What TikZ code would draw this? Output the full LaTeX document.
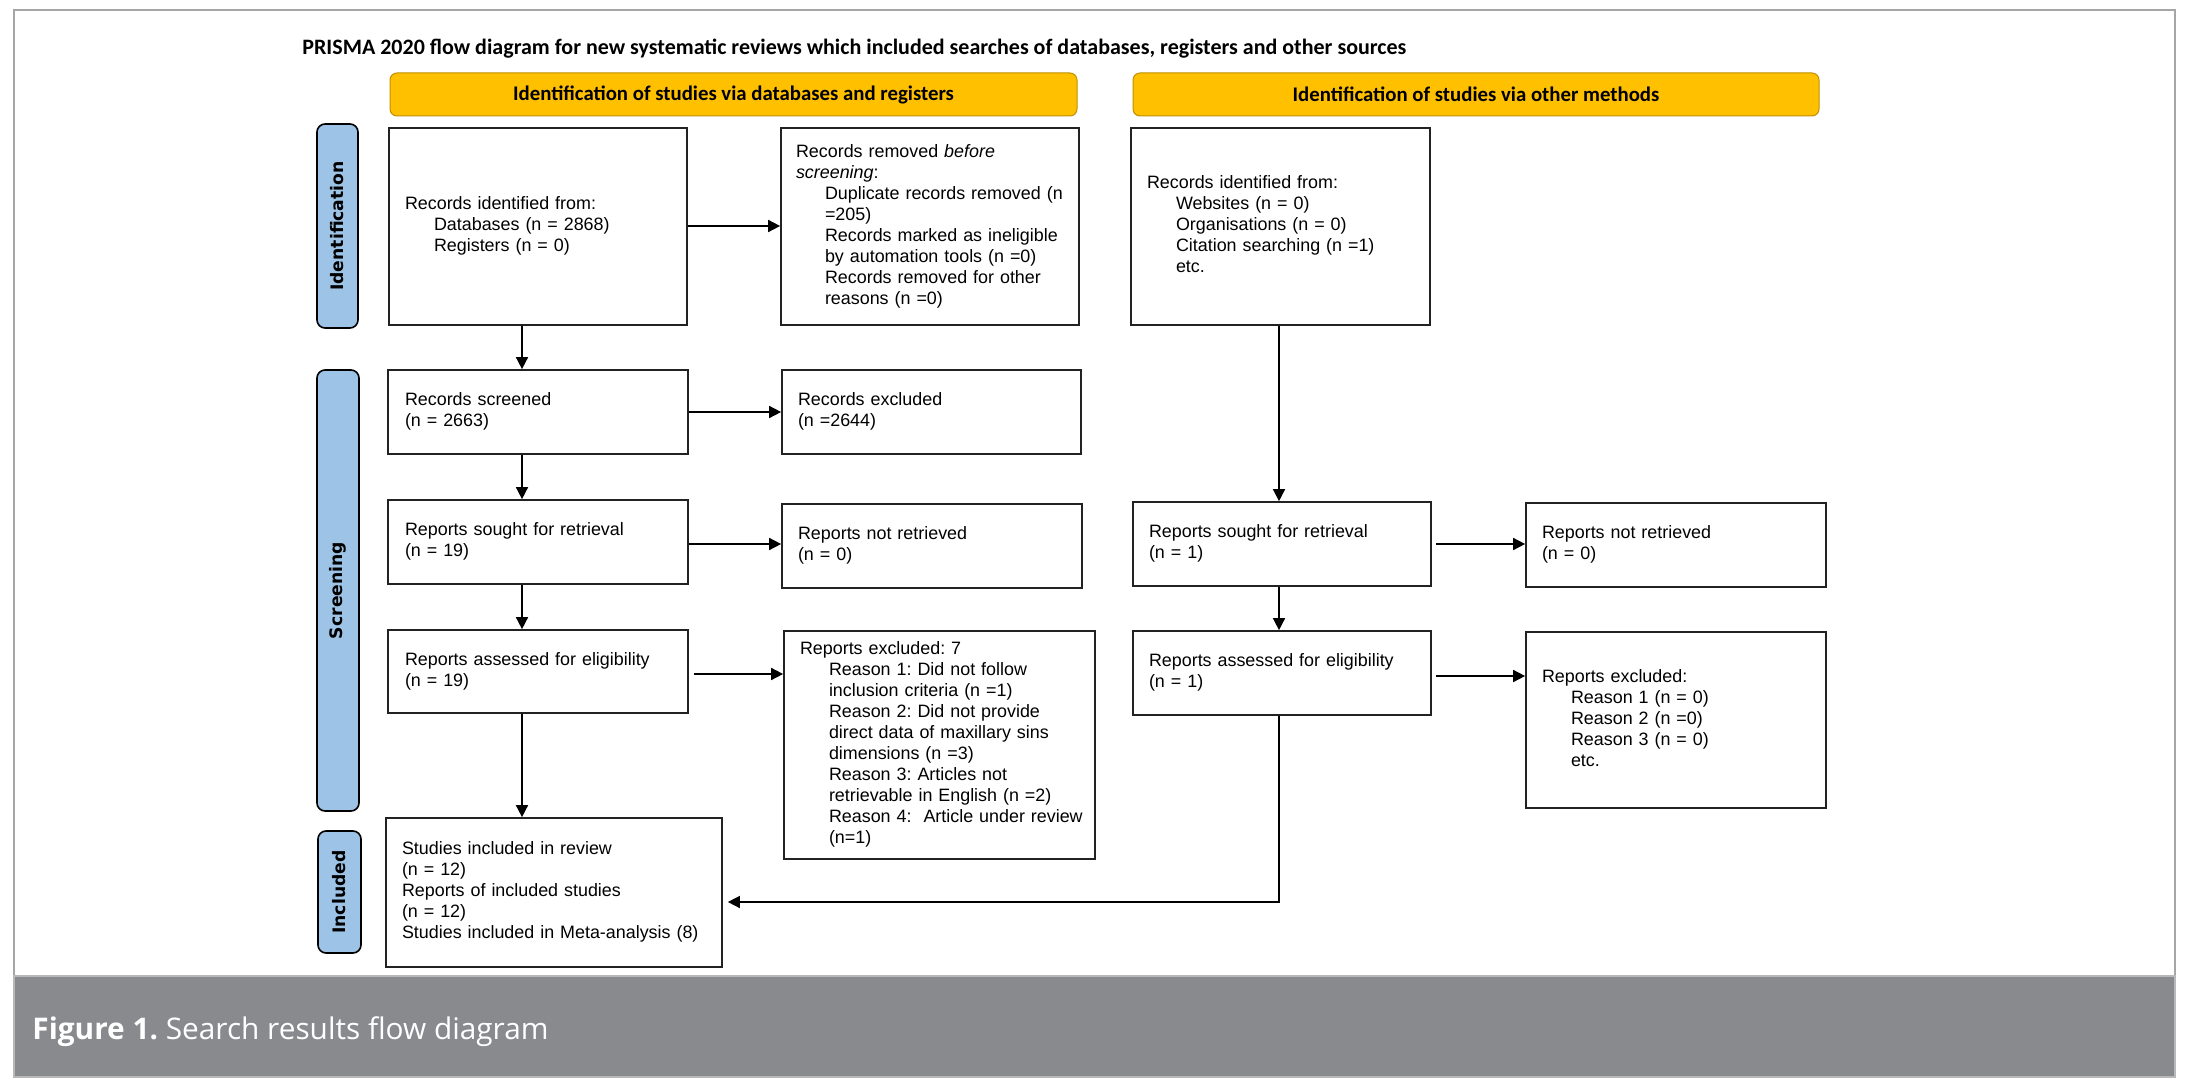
\documentclass[tikz,border=0pt]{standalone}
\usepackage{fontspec}
\setmainfont{Liberation Sans}
\newfontfamily\calibri{Carlito}
\newfontfamily\capfont{Open Sans}
\newfontfamily\labfont{DejaVu Sans}
\usetikzlibrary{arrows.meta}
\definecolor{hdrfill}{HTML}{FFC000}
\definecolor{hdrdraw}{HTML}{BF9000}
\definecolor{labfill}{HTML}{9DC3E6}
\definecolor{framegray}{HTML}{A6A6A6}
\definecolor{bandgray}{HTML}{898A8E}
\definecolor{bandedge}{HTML}{B8B8B8}
\definecolor{boxdraw}{HTML}{222222}
\newcommand\pbboxfont{\fontsize{8.95}{10.5}\selectfont}
\newcommand\pbrows[1]{\begin{tabular}{@{}l@{}}#1\end{tabular}}
\newcommand\pbind{\hspace*{14.5pt}}
\tikzset{
  pbox/.style={draw=boxdraw, line width=0.85pt, fill=white, inner xsep=0pt, inner ysep=0pt,
    align=left, font=\pbboxfont},
  hdr/.style={draw=hdrdraw, line width=0.5pt, fill=hdrfill, rounded corners=3.5pt,
    font=\calibri\bfseries\fontsize{10.4}{12}\selectfont, minimum height=21.5pt, inner sep=0pt},
  lab/.style={draw=black, line width=0.8pt, fill=labfill, rounded corners=4pt,
    font=\labfont\bfseries\fontsize{8.6}{10}\selectfont, rotate=90, inner sep=0pt},
  arr/.style={draw=black, line width=0.8pt, -{Triangle[length=6pt,width=6pt]}}
}
\begin{document}
\frenchspacing
\begin{tikzpicture}[x=0.5pt,y=-0.5pt]
\useasboundingbox (0,0) rectangle (2194,1086);
% frame and caption band
\draw[framegray, line width=0.75pt] (14,10) rectangle (2175,976);
\fill[bandgray] (14,976) rectangle (2175,1077);
\draw[bandedge, line width=0.75pt] (14,976) rectangle (2175,1077);
\node[anchor=base west, text=white, inner sep=0pt, font=\capfont\fontsize{14.9}{17}\selectfont] (cap) at (32,1039) {\textbf{Figure 1.} Search results flow diagram};
% title
\node[anchor=base west, inner sep=0pt, font=\calibri\bfseries\fontsize{11}{13}\selectfont] (title) at (302,55) {PRISMA 2020 flow diagram for new systematic reviews which included searches of databases, registers and other sources};
% headers
\node[hdr, minimum width=343.5pt] (h1) at (733.5,94.5) {Identification of studies via databases and registers};
\node[hdr, minimum width=343pt] (h2) at (1476,94.5) {Identification of studies via other methods};
% side labels
\node[lab, minimum width=102pt, minimum height=20.5pt] (l1) at (337.5,226) {Identification};
\node[lab, minimum width=220.5pt, minimum height=21pt] (l2) at (338,590.5) {Screening};
\node[lab, minimum width=61pt, minimum height=21.5pt] (l3) at (339.5,892) {Included};
% left column
\node[pbox, minimum width=149pt, minimum height=98.5pt, text width=133pt] (id1) at (538,226.5)
  {\pbrows{Records identified from:\\ \pbind Databases (n = 2868)\\ \pbind Registers (n = 0)}};
\node[pbox, minimum width=149pt, minimum height=98.5pt, text width=134pt] (rem) at (930,226.5)
  {\pbrows{Records removed \textit{before}\\ \textit{screening}:\\ \pbind Duplicate records removed (n\\ \pbind =205)\\ \pbind Records marked as ineligible\\ \pbind by automation tools (n =0)\\ \pbind Records removed for other\\ \pbind reasons (n =0)}};
\node[pbox, minimum width=150pt, minimum height=42pt, text width=133pt] (scr) at (538,412)
  {\pbrows{Records screened\\ (n = 2663)}};
\node[pbox, minimum width=149.5pt, minimum height=42pt, text width=133.5pt] (exc) at (931.5,412)
  {\pbrows{Records excluded\\ (n =2644)}};
\node[pbox, minimum width=150pt, minimum height=42pt, text width=133pt] (sought) at (538,542)
  {\pbrows{Reports sought for retrieval\\ (n = 19)}};
\node[pbox, minimum width=150pt, minimum height=42pt, text width=134pt] (notret) at (932,546)
  {\pbrows{Reports not retrieved\\ (n = 0)}};
\node[pbox, minimum width=150pt, minimum height=41.5pt, text width=133pt] (assess) at (538,671.5)
  {\pbrows{Reports assessed for eligibility\\ (n = 19)}};
\node[pbox, minimum width=155.5pt, minimum height=114pt, text width=139.5pt] (repexc) at (939.5,745)
  {\pbrows{Reports excluded: 7\\ \pbind Reason 1: Did not follow\\ \pbind inclusion criteria (n =1)\\ \pbind Reason 2: Did not provide\\ \pbind direct data of maxillary sins\\ \pbind dimensions (n =3)\\ \pbind Reason 3: Articles not\\ \pbind retrievable in English (n =2)\\ \pbind Reason 4:\ \ Article under review\\ \pbind (n=1)}};
\node[pbox, minimum width=168pt, minimum height=74.5pt, text width=152pt] (incl) at (554,892.5)
  {\pbrows{Studies included in review\\ (n = 12)\\ Reports of included studies\\ (n = 12)\\ Studies included in Meta-analysis (8)}};
% right column
\node[pbox, minimum width=149.5pt, minimum height=98.5pt, text width=133.5pt] (oth) at (1280.5,226.5)
  {\pbrows{Records identified from:\\ \pbind Websites (n = 0)\\ \pbind Organisations (n = 0)\\ \pbind Citation searching (n =1)\\ \pbind etc.}};
\node[pbox, minimum width=149pt, minimum height=42pt, text width=133pt] (osought) at (1282,544)
  {\pbrows{Reports sought for retrieval\\ (n = 1)}};
\node[pbox, minimum width=150pt, minimum height=42pt, text width=134pt] (onotret) at (1676,545)
  {\pbrows{Reports not retrieved\\ (n = 0)}};
\node[pbox, minimum width=149pt, minimum height=42pt, text width=133pt] (oassess) at (1282,673)
  {\pbrows{Reports assessed for eligibility\\ (n = 1)}};
\node[pbox, minimum width=150pt, minimum height=88pt, text width=134pt] (oexc) at (1676,720)
  {\pbrows{Reports excluded:\\ \pbind Reason 1 (n = 0)\\ \pbind Reason 2 (n =0)\\ \pbind Reason 3 (n = 0)\\ \pbind etc.}};
% helper coordinates
\coordinate (xl) at (522,0);
\coordinate (xr) at (1279,0);
\coordinate (yid) at (0,226);
\coordinate (ysn) at (0,544);
\coordinate (yas) at (0,674);
\coordinate (yoa) at (0,676);
\coordinate (j) at (1279,902);
% connectors, left column
\draw[arr] (id1.east |- yid) -- (rem.west |- yid);
\draw[arr] (id1.south -| xl) -- (scr.north -| xl);
\draw[arr] (scr.east) -- (exc.west);
\draw[arr] (scr.south -| xl) -- (sought.north -| xl);
\draw[arr] (sought.east |- ysn) -- (notret.west |- ysn);
\draw[arr] (sought.south -| xl) -- (assess.north -| xl);
\draw[arr, shorten <=2.5pt] (assess.east |- yas) -- (repexc.west |- yas);
\draw[arr] (assess.south -| xl) -- (incl.north -| xl);
% connectors, right column
\draw[arr] (oth.south -| xr) -- (osought.north -| xr);
\draw[arr, shorten <=2pt] (osought.east) -- (osought.east -| onotret.west);
\draw[arr] (osought.south -| xr) -- (oassess.north -| xr);
\draw[arr, shorten <=2pt] (oassess.east |- yoa) -- (oexc.west |- yoa);
\draw[arr, shorten >=2.5pt] (oassess.south -| xr) -- (j) -- (j -| incl.east);
\end{tikzpicture}
\end{document}
